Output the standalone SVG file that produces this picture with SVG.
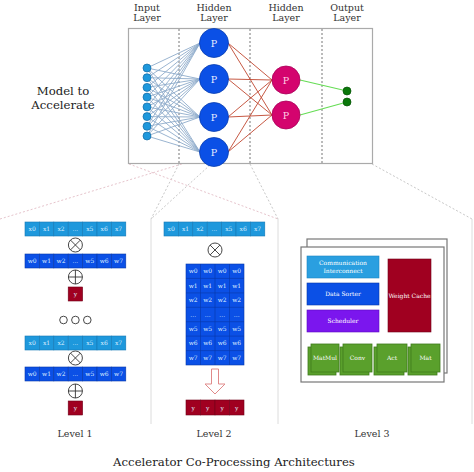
<svg xmlns="http://www.w3.org/2000/svg" width="474" height="472" viewBox="0 0 474 472">
<style>
text{font-family:"DejaVu Serif","Liberation Serif",serif;}
.lbl{font-size:9.5px;fill:#333;text-anchor:middle;}
.big{font-size:11.7px;fill:#222;text-anchor:middle;}
.p{font-size:9.5px;fill:#e8eeff;text-anchor:middle;}
.p2{font-size:9.5px;fill:#ffd0e6;text-anchor:middle;}
.c{font-size:6px;fill:#dfefff;text-anchor:middle;}
.xc{fill:#1e98dc;stroke:#1479b5;stroke-width:0.6;}
.wc{fill:#0b50e6;stroke:#0838a8;stroke-width:0.6;}
.yc{fill:#a00020;stroke:#70001a;stroke-width:0.6;}
.op{fill:none;stroke:#333;stroke-width:0.9;}
.zoom{fill:none;stroke:#c8c8c8;stroke-width:1;stroke-dasharray:2,2;}
.zoomp{fill:none;stroke:#e6c4cc;stroke-width:1;stroke-dasharray:2,2;}
.sep{stroke:#dcdcdc;stroke-width:1;}
.e1{stroke:#8eaccb;stroke-width:0.9;}
.e2{stroke:#c0462f;stroke-width:0.9;}
.e3{stroke:#66dd55;stroke-width:1.1;}
.h1{fill:#0b50e6;stroke:#0a3fb0;stroke-width:0.8;}
.h2{fill:#d4046e;stroke:#a8035a;stroke-width:0.8;}
.in{fill:#1e98dc;stroke:#146aa3;stroke-width:0.7;}
.out{fill:#0a780a;stroke:#065206;stroke-width:0.7;}
.g{fill:#5aa02c;stroke:#3f7a1d;stroke-width:0.8;}
.bt{font-size:6px;fill:#fff;text-anchor:middle;}
</style>
<rect width="474" height="472" fill="#fff"/>

<g id="zoom-lines">
<line class="zoomp" x1="0" y1="219" x2="205" y2="157"/>
<line class="zoom" x1="210" y1="165" x2="151" y2="219"/>
<line class="zoom" x1="179" y1="164" x2="151" y2="219"/>
<line class="zoom" x1="250" y1="164" x2="278" y2="219"/>
<line class="zoomp" x1="129" y1="164" x2="278" y2="219"/>
<line class="zoom" x1="372" y1="164" x2="472" y2="219"/>
<line class="sep" x1="151" y1="219" x2="151" y2="424"/>
<line class="sep" x1="278" y1="219" x2="278" y2="424"/>
<line class="sep" x1="472" y1="219" x2="472" y2="424"/>
</g>

<g id="model-box">
<rect x="128.5" y="28.5" width="244" height="135" fill="#fff" stroke="#aaa" stroke-width="1.2"/>
<line x1="179" y1="29" x2="179" y2="163" stroke="#777" stroke-width="1" stroke-dasharray="2,2"/>
<line x1="250" y1="29" x2="250" y2="163" stroke="#777" stroke-width="1" stroke-dasharray="2,2"/>
<line x1="322" y1="29" x2="322" y2="163" stroke="#777" stroke-width="1" stroke-dasharray="2,2"/>
</g>

<g id="layer-labels">
<text class="lbl" x="147" y="11">Input</text><text class="lbl" x="147" y="21">Layer</text>
<text class="lbl" x="214" y="11">Hidden</text><text class="lbl" x="214" y="21">Layer</text>
<text class="lbl" x="286" y="11">Hidden</text><text class="lbl" x="286" y="21">Layer</text>
<text class="lbl" x="347" y="11">Output</text><text class="lbl" x="347" y="21">Layer</text>
</g>
<g id="model-label">
<text class="big" x="63" y="95">Model to</text>
<text class="big" x="63" y="109">Accelerate</text>
</g>

<g id="connectors">
<g class="e1">
<line x1="147" y1="68" x2="200" y2="43"/><line x1="147" y1="68" x2="200" y2="79"/><line x1="147" y1="68" x2="200" y2="117"/><line x1="147" y1="68" x2="200" y2="152"/>
<line x1="147" y1="77.7" x2="200" y2="43"/><line x1="147" y1="77.7" x2="200" y2="79"/><line x1="147" y1="77.7" x2="200" y2="117"/><line x1="147" y1="77.7" x2="200" y2="152"/>
<line x1="147" y1="87.4" x2="200" y2="43"/><line x1="147" y1="87.4" x2="200" y2="79"/><line x1="147" y1="87.4" x2="200" y2="117"/><line x1="147" y1="87.4" x2="200" y2="152"/>
<line x1="147" y1="97.1" x2="200" y2="43"/><line x1="147" y1="97.1" x2="200" y2="79"/><line x1="147" y1="97.1" x2="200" y2="117"/><line x1="147" y1="97.1" x2="200" y2="152"/>
<line x1="147" y1="106.9" x2="200" y2="43"/><line x1="147" y1="106.9" x2="200" y2="79"/><line x1="147" y1="106.9" x2="200" y2="117"/><line x1="147" y1="106.9" x2="200" y2="152"/>
<line x1="147" y1="116.6" x2="200" y2="43"/><line x1="147" y1="116.6" x2="200" y2="79"/><line x1="147" y1="116.6" x2="200" y2="117"/><line x1="147" y1="116.6" x2="200" y2="152"/>
<line x1="147" y1="126.3" x2="200" y2="43"/><line x1="147" y1="126.3" x2="200" y2="79"/><line x1="147" y1="126.3" x2="200" y2="117"/><line x1="147" y1="126.3" x2="200" y2="152"/>
<line x1="147" y1="136" x2="200" y2="43"/><line x1="147" y1="136" x2="200" y2="79"/><line x1="147" y1="136" x2="200" y2="117"/><line x1="147" y1="136" x2="200" y2="152"/>
</g>
<g class="e2">
<line x1="228" y1="43" x2="272" y2="80"/><line x1="228" y1="43" x2="272" y2="115"/>
<line x1="228" y1="79" x2="272" y2="80"/><line x1="228" y1="79" x2="272" y2="115"/>
<line x1="228" y1="117" x2="272" y2="80"/><line x1="228" y1="117" x2="272" y2="115"/>
<line x1="228" y1="152" x2="272" y2="80"/><line x1="228" y1="152" x2="272" y2="115"/>
</g>
<g class="e3">
<line x1="300" y1="80" x2="347" y2="91"/>
<line x1="300" y1="115" x2="347" y2="102"/>
</g>
</g>

<g id="input-layer">
<circle class="in" cx="147" cy="68" r="4"/><circle class="in" cx="147" cy="77.7" r="4"/>
<circle class="in" cx="147" cy="87.4" r="4"/><circle class="in" cx="147" cy="97.1" r="4"/>
<circle class="in" cx="147" cy="106.9" r="4"/><circle class="in" cx="147" cy="116.6" r="4"/>
<circle class="in" cx="147" cy="126.3" r="4"/><circle class="in" cx="147" cy="136" r="4"/>
</g>
<g id="hidden1">
<circle class="h1" cx="214" cy="43" r="14.5"/><text class="p" x="214" y="46.5">P</text>
<circle class="h1" cx="214" cy="79" r="14.5"/><text class="p" x="214" y="82.5">P</text>
<circle class="h1" cx="214" cy="117" r="14.5"/><text class="p" x="214" y="120.5">P</text>
<circle class="h1" cx="214" cy="152" r="14.5"/><text class="p" x="214" y="155.5">P</text>
</g>
<g id="hidden2">
<circle class="h2" cx="286" cy="80" r="14"/><text class="p2" x="286" y="83.5">P</text>
<circle class="h2" cx="286" cy="115" r="14"/><text class="p2" x="286" y="118.5">P</text>
</g>
<g id="output-layer">
<circle class="out" cx="347" cy="91" r="4"/>
<circle class="out" cx="347" cy="102" r="4"/>
</g>

<g id="level1">
<g id="l1-x-a">
<rect class="xc" x="25" y="222" width="14.4" height="14"/><rect class="xc" x="39.4" y="222" width="14.4" height="14"/><rect class="xc" x="53.8" y="222" width="14.4" height="14"/><rect class="xc" x="68.2" y="222" width="14.4" height="14"/><rect class="xc" x="82.6" y="222" width="14.4" height="14"/><rect class="xc" x="97" y="222" width="14.4" height="14"/><rect class="xc" x="111.4" y="222" width="14.4" height="14"/>
<text class="c" x="32.2" y="231">x0</text><text class="c" x="46.6" y="231">x1</text><text class="c" x="61" y="231">x2</text><text class="c" x="75.4" y="231">...</text><text class="c" x="89.8" y="231">x5</text><text class="c" x="104.2" y="231">x6</text><text class="c" x="118.6" y="231">x7</text>
</g>
<g class="op"><circle cx="75.4" cy="245" r="7"/><line x1="70.5" y1="240.1" x2="80.3" y2="249.9"/><line x1="80.3" y1="240.1" x2="70.5" y2="249.9"/></g>
<g id="l1-w-a">
<rect class="wc" x="25" y="254" width="14.4" height="14"/><rect class="wc" x="39.4" y="254" width="14.4" height="14"/><rect class="wc" x="53.8" y="254" width="14.4" height="14"/><rect class="wc" x="68.2" y="254" width="14.4" height="14"/><rect class="wc" x="82.6" y="254" width="14.4" height="14"/><rect class="wc" x="97" y="254" width="14.4" height="14"/><rect class="wc" x="111.4" y="254" width="14.4" height="14"/>
<text class="c" x="32.2" y="263">w0</text><text class="c" x="46.6" y="263">w1</text><text class="c" x="61" y="263">w2</text><text class="c" x="75.4" y="263">...</text><text class="c" x="89.8" y="263">w5</text><text class="c" x="104.2" y="263">w6</text><text class="c" x="118.6" y="263">w7</text>
</g>
<g class="op"><circle cx="75.4" cy="277" r="7"/><line x1="68.4" y1="277" x2="82.4" y2="277"/><line x1="75.4" y1="270" x2="75.4" y2="284"/></g>
<rect class="yc" x="68.2" y="287" width="14.4" height="14"/><text class="c" x="75.4" y="296">y</text>
<g class="op"><circle cx="63.5" cy="320" r="3.8"/><circle cx="75.4" cy="320" r="3.8"/><circle cx="87.3" cy="320" r="3.8"/></g>
<g id="l1-x-b">
<rect class="xc" x="25" y="336" width="14.4" height="14"/><rect class="xc" x="39.4" y="336" width="14.4" height="14"/><rect class="xc" x="53.8" y="336" width="14.4" height="14"/><rect class="xc" x="68.2" y="336" width="14.4" height="14"/><rect class="xc" x="82.6" y="336" width="14.4" height="14"/><rect class="xc" x="97" y="336" width="14.4" height="14"/><rect class="xc" x="111.4" y="336" width="14.4" height="14"/>
<text class="c" x="32.2" y="345">x0</text><text class="c" x="46.6" y="345">x1</text><text class="c" x="61" y="345">x2</text><text class="c" x="75.4" y="345">...</text><text class="c" x="89.8" y="345">x5</text><text class="c" x="104.2" y="345">x6</text><text class="c" x="118.6" y="345">x7</text>
</g>
<g class="op"><circle cx="75.4" cy="358" r="7"/><line x1="70.5" y1="353.1" x2="80.3" y2="362.9"/><line x1="80.3" y1="353.1" x2="70.5" y2="362.9"/></g>
<g id="l1-w-b">
<rect class="wc" x="25" y="367" width="14.4" height="14"/><rect class="wc" x="39.4" y="367" width="14.4" height="14"/><rect class="wc" x="53.8" y="367" width="14.4" height="14"/><rect class="wc" x="68.2" y="367" width="14.4" height="14"/><rect class="wc" x="82.6" y="367" width="14.4" height="14"/><rect class="wc" x="97" y="367" width="14.4" height="14"/><rect class="wc" x="111.4" y="367" width="14.4" height="14"/>
<text class="c" x="32.2" y="376">w0</text><text class="c" x="46.6" y="376">w1</text><text class="c" x="61" y="376">w2</text><text class="c" x="75.4" y="376">...</text><text class="c" x="89.8" y="376">w5</text><text class="c" x="104.2" y="376">w6</text><text class="c" x="118.6" y="376">w7</text>
</g>
<g class="op"><circle cx="75.4" cy="391" r="7"/><line x1="68.4" y1="391" x2="82.4" y2="391"/><line x1="75.4" y1="384" x2="75.4" y2="398"/></g>
<rect class="yc" x="68.2" y="401" width="14.4" height="14"/><text class="c" x="75.4" y="410">y</text>
<text class="lbl" x="75" y="437">Level 1</text>
</g>

<g id="level2">
<g id="l2-x">
<rect class="xc" x="164" y="222" width="14.4" height="14"/><rect class="xc" x="178.4" y="222" width="14.4" height="14"/><rect class="xc" x="192.8" y="222" width="14.4" height="14"/><rect class="xc" x="207.2" y="222" width="14.4" height="14"/><rect class="xc" x="221.6" y="222" width="14.4" height="14"/><rect class="xc" x="236" y="222" width="14.4" height="14"/><rect class="xc" x="250.4" y="222" width="14.4" height="14"/>
<text class="c" x="171.2" y="231">x0</text><text class="c" x="185.6" y="231">x1</text><text class="c" x="200" y="231">x2</text><text class="c" x="214.4" y="231">...</text><text class="c" x="228.8" y="231">x5</text><text class="c" x="243.2" y="231">x6</text><text class="c" x="257.6" y="231">x7</text>
</g>
<g class="op"><circle cx="215" cy="250" r="7"/><line x1="210.1" y1="245.1" x2="219.9" y2="254.9"/><line x1="219.9" y1="245.1" x2="210.1" y2="254.9"/></g>
<g id="l2-matrix">
<rect class="wc" x="186" y="264" width="58" height="101"/>
<g stroke="#0838a8" stroke-width="0.6">
<line x1="200.5" y1="264" x2="200.5" y2="365"/><line x1="215" y1="264" x2="215" y2="365"/><line x1="229.5" y1="264" x2="229.5" y2="365"/>
<line x1="186" y1="278.4" x2="244" y2="278.4"/><line x1="186" y1="292.9" x2="244" y2="292.9"/><line x1="186" y1="307.3" x2="244" y2="307.3"/><line x1="186" y1="321.7" x2="244" y2="321.7"/><line x1="186" y1="336.1" x2="244" y2="336.1"/><line x1="186" y1="350.6" x2="244" y2="350.6"/>
</g>
<g class="c">
<text x="193.2" y="273.2">w0</text><text x="207.7" y="273.2">w0</text><text x="222.2" y="273.2">w0</text><text x="236.7" y="273.2">w0</text>
<text x="193.2" y="287.6">w1</text><text x="207.7" y="287.6">w1</text><text x="222.2" y="287.6">w1</text><text x="236.7" y="287.6">w1</text>
<text x="193.2" y="302.1">w2</text><text x="207.7" y="302.1">w2</text><text x="222.2" y="302.1">w2</text><text x="236.7" y="302.1">w2</text>
<text x="193.2" y="316.5">...</text><text x="207.7" y="316.5">...</text><text x="222.2" y="316.5">...</text><text x="236.7" y="316.5">...</text>
<text x="193.2" y="330.9">w5</text><text x="207.7" y="330.9">w5</text><text x="222.2" y="330.9">w5</text><text x="236.7" y="330.9">w5</text>
<text x="193.2" y="345.4">w6</text><text x="207.7" y="345.4">w6</text><text x="222.2" y="345.4">w6</text><text x="236.7" y="345.4">w6</text>
<text x="193.2" y="359.8">w7</text><text x="207.7" y="359.8">w7</text><text x="222.2" y="359.8">w7</text><text x="236.7" y="359.8">w7</text>
</g>
</g>
<path d="M211.5,369 H218.5 V384 H225 L215,394 L205,384 H211.5 Z" fill="#fff" stroke="#e08a8a" stroke-width="1"/>
<g id="l2-y">
<rect class="yc" x="186" y="400" width="14.5" height="15"/><rect class="yc" x="200.5" y="400" width="14.5" height="15"/><rect class="yc" x="215" y="400" width="14.5" height="15"/><rect class="yc" x="229.5" y="400" width="14.5" height="15"/>
<text class="c" x="193.2" y="409.5">y</text><text class="c" x="207.7" y="409.5">y</text><text class="c" x="222.2" y="409.5">y</text><text class="c" x="236.7" y="409.5">y</text>
</g>
<text class="lbl" x="214" y="437">Level 2</text>
</g>

<g id="level3">
<rect x="307" y="239" width="140" height="134" fill="#fff" stroke="#777" stroke-width="1.2"/>
<rect x="301" y="247" width="143" height="135" fill="#fff" stroke="#777" stroke-width="1.2"/>
<g id="comm"><rect x="307" y="256" width="72" height="22" fill="#2a9fe0" stroke="#1b86c4" stroke-width="0.6"/><text class="bt" x="343" y="265">Communication</text><text class="bt" x="343" y="273">Interconnect</text></g>
<g id="sorter"><rect x="307" y="283" width="72" height="22" fill="#0b50e6" stroke="#0838a8" stroke-width="0.6"/><text class="bt" x="343" y="296">Data Sorter</text></g>
<g id="scheduler"><rect x="307" y="310" width="72" height="22" fill="#7b16ee" stroke="#5a0cc0" stroke-width="0.6"/><text class="bt" x="343" y="323">Scheduler</text></g>
<g id="cache"><rect x="388" y="259" width="43" height="73" fill="#a00020" stroke="#70001a" stroke-width="0.6"/><text class="bt" x="409.5" y="298">Weight Cache</text></g>
<g id="matmul"><rect class="g" x="308" y="347" width="28" height="28"/><rect class="g" x="311" y="344" width="28" height="28"/><text class="bt" x="325" y="360">MatMul</text></g>
<g id="conv"><rect class="g" x="340" y="347" width="29" height="28"/><rect class="g" x="343" y="344" width="29" height="28"/><text class="bt" x="357.5" y="360">Conv</text></g>
<g id="act"><rect class="g" x="374" y="347" width="30" height="28"/><rect class="g" x="377" y="344" width="30" height="28"/><text class="bt" x="392" y="360">Act</text></g>
<g id="mat"><rect class="g" x="408" y="347" width="29" height="28"/><rect class="g" x="411" y="344" width="29" height="28"/><text class="bt" x="425.5" y="360">Mat</text></g>
<text class="lbl" x="372" y="437">Level 3</text>
</g>

<text class="big" x="234" y="466">Accelerator Co-Processing Architectures</text>
</svg>
